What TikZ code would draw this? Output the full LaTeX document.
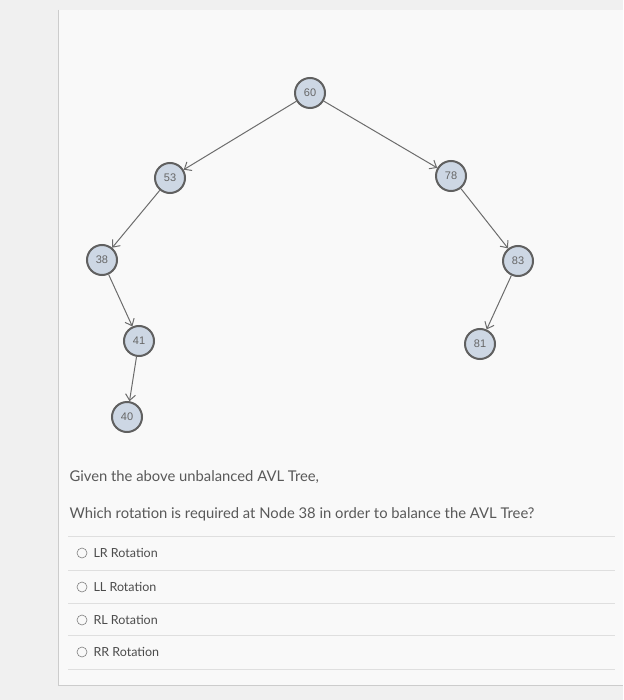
\documentclass[tikz,border=0pt]{standalone}
\usepackage{fontspec}
\setmainfont{Lato}
\setsansfont{Liberation Sans}
\usetikzlibrary{arrows.meta}
\begin{document}
\begin{tikzpicture}[x=1pt,y=-1pt,
  tn/.style={circle,draw=gray!75!black,line width=2pt,fill={rgb,255:red,205;green,215;blue,228},minimum size=30pt,inner sep=0pt,font=\fontsize{11}{13}\selectfont\sffamily,text=gray!80!black},
  ed/.style={draw=gray!85!black,line width=1pt,-{Straight Barb[length=6pt,width=10pt]}},
  opt/.style={circle,draw=gray,line width=0.6pt,minimum size=10pt,inner sep=0pt},
  otx/.style={anchor=west,font=\fontsize{12.5}{14}\selectfont,text=gray!60!black}]
\useasboundingbox (0,0) rectangle (623,700);
\fill[gray!12] (0,0) rectangle (623,700);
\fill[gray!5] (58,10) rectangle (623,685);
\draw[gray!40] (58,10) -- (58,685) -- (623,685);
\node[tn] (n60) at (310,93) {60};
\node[tn] (n53) at (170,178) {53};
\node[tn] (n78) at (451,176) {78};
\node[tn] (n38) at (102,260) {38};
\node[tn] (n83) at (518,261) {83};
\node[tn] (n41) at (139,341) {41};
\node[tn] (n81) at (480,344) {81};
\node[tn] (n40) at (127,417) {40};
\draw[ed] (n60) -- (n53);
\draw[ed] (n60) -- (n78);
\draw[ed] (n53) -- (n38);
\draw[ed] (n78) -- (n83);
\draw[ed] (n38) -- (n41);
\draw[ed] (n83) -- (n81);
\draw[ed] (n41) -- (n40);
\node[anchor=west,font=\fontsize{14.8}{17}\selectfont,text=gray!70!black] (q1) at (66,477) {Given the above unbalanced AVL Tree,};
\node[anchor=west,font=\fontsize{14.8}{17}\selectfont,text=gray!70!black] (q2) at (66,514) {Which rotation is required at Node 38 in order to balance the AVL Tree?};
\foreach \y/\t/\n in {553/LR Rotation/a,587/LL Rotation/b,620/RL Rotation/c,652/RR Rotation/d}{
  \node[opt] (o\n) at (82,\y) {};
  \node[otx] (t\n) at (90,\y) {\t};
  \draw[gray!25] (68,\y-17) -- (615,\y-17);
}
\draw[gray!25] (68,669) -- (615,669);
\end{tikzpicture}
\end{document}
